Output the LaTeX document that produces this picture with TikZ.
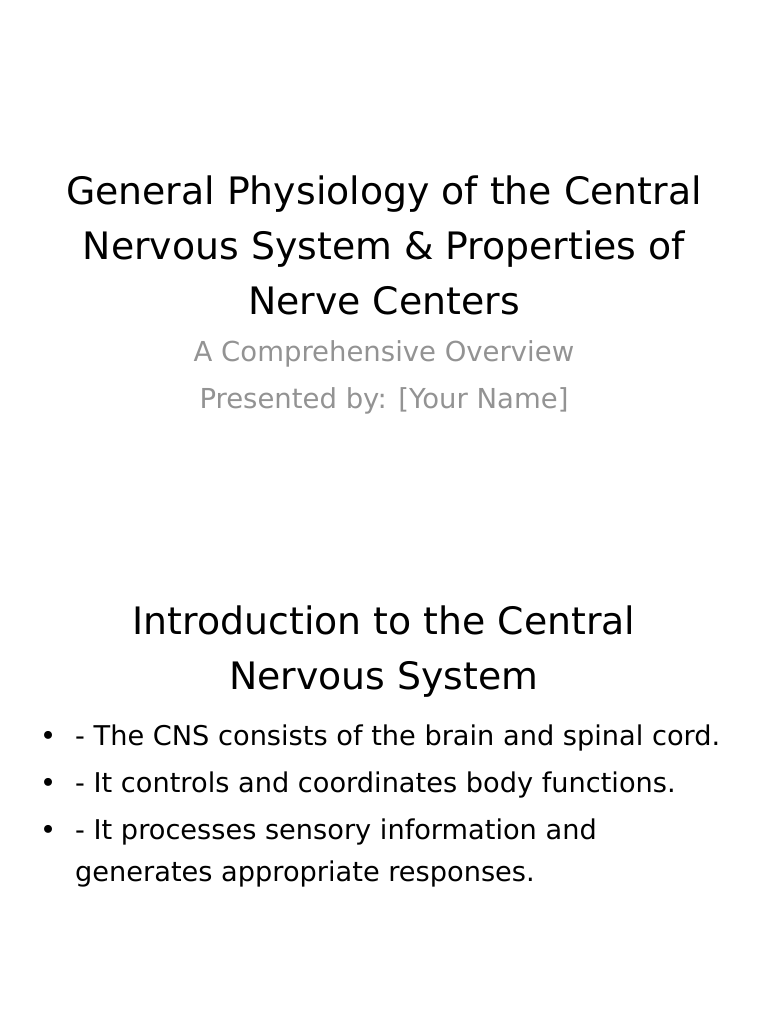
\documentclass[tikz,border=0pt]{standalone}
\usepackage{fontspec}
\setmainfont{DejaVu Sans}
\begin{document}
\begin{tikzpicture}[x=1pt,y=-1pt,
  titletext/.style={align=center,font=\fontsize{37.8}{55}\selectfont,inner sep=0pt},
  subtext/.style={align=center,font=\fontsize{27.5}{47}\selectfont,text=gray!85,inner sep=0pt},
  bullettext/.style={anchor=west,font=\fontsize{27.2}{42}\selectfont,inner sep=0pt}]
  \useasboundingbox (0,0) rectangle (768,1024);
  % first slide
  \node[titletext] (title1) at (384,245) {General Physiology of the Central\\Nervous System \& Properties of\\Nerve Centers};
  \node[subtext] (sub1) at (384,377) {A Comprehensive Overview\\Presented by: [Your Name]};
  % second slide
  \node[titletext] (title2) at (384,652) {Introduction to the Central\\Nervous System};
  \node[bullettext] (b1) at (40,738) {\makebox[35pt][l]{\textbullet}- The CNS consists of the brain and spinal cord.};
  \node[bullettext] (b2) at (40,785) {\makebox[35pt][l]{\textbullet}- It controls and coordinates body functions.};
  \node[bullettext,align=left] (b3) at (40,853) {\makebox[35pt][l]{\textbullet}- It processes sensory information and\\\hspace{35pt}generates appropriate responses.};
\end{tikzpicture}
\end{document}
